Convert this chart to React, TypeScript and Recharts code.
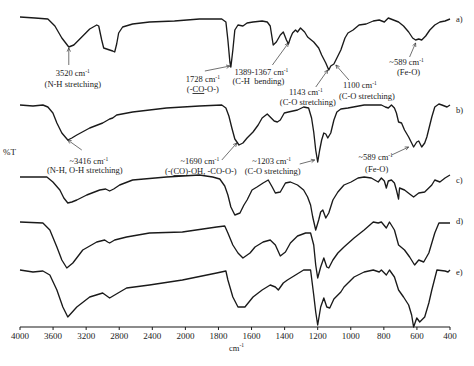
import React from "react";
import { LineChart, Line, XAxis, YAxis, ReferenceDot } from "recharts";

const FONT = '"Liberation Serif", "Times New Roman", serif';
const INK = "#1a1a1a";

// wavenumbers (cm-1) and offset %T, one pair per spectrum
const waveA = [4000, 3819, 3663, 3578, 3494, 3410, 3349, 3253, 3157, 3072, 3048, 3012, 2988, 2952, 2916, 2879, 2855, 2831, 2807, 2759, 2638, 2434, 2132, 1915, 1780, 1755, 1743, 1731, 1725, 1713, 1701, 1682, 1652, 1627, 1591, 1536, 1505, 1487, 1469, 1450, 1426, 1408, 1389, 1377, 1365, 1352, 1334, 1322, 1304, 1279, 1261, 1224, 1194, 1176, 1151, 1133, 1121, 1102, 1084, 1060, 1035, 1017, 986, 950, 907, 864, 828, 797, 773, 742, 711, 681, 650, 626, 608, 589, 571, 547, 522, 492, 461, 430, 400];
const transA = [310, 309, 308, 301, 289, 280, 282, 290, 298, 302, 301, 287, 279, 278, 277, 276, 275, 283, 294, 300, 303, 305, 306, 308, 308, 305, 287, 265, 260, 277, 297, 302, 301, 304, 305, 306, 305, 301, 282, 285, 292, 295, 287, 283, 289, 294, 297, 295, 299, 295, 290, 285, 279, 272, 264, 257, 261, 263, 269, 277, 289, 294, 297, 302, 303, 306, 307, 305, 309, 307, 305, 301, 295, 289, 287, 288, 287, 291, 297, 302, 305, 306, 308];

const waveB = [4000, 3843, 3723, 3663, 3602, 3554, 3494, 3422, 3373, 3313, 3157, 3000, 2916, 2879, 2831, 2638, 2229, 1915, 1780, 1755, 1737, 1719, 1701, 1676, 1652, 1627, 1591, 1560, 1536, 1505, 1481, 1463, 1444, 1426, 1402, 1377, 1322, 1285, 1255, 1237, 1224, 1212, 1200, 1188, 1176, 1163, 1151, 1139, 1121, 1102, 1084, 1060, 1017, 919, 815, 791, 773, 754, 736, 724, 711, 693, 675, 650, 632, 620, 601, 589, 571, 553, 540, 522, 510, 492, 467, 449, 418, 400];
const transB = [222, 221, 222, 220, 214, 204, 194, 187, 189, 192, 199, 204, 208, 209, 212, 215, 219, 221, 222, 219, 211, 199, 188, 182, 184, 189, 195, 202, 209, 213, 209, 206, 205, 207, 214, 215, 217, 220, 219, 209, 195, 177, 165, 177, 187, 194, 193, 189, 194, 207, 215, 218, 219, 222, 222, 220, 219, 222, 219, 214, 205, 204, 197, 190, 184, 180, 185, 186, 180, 184, 190, 202, 210, 220, 223, 222, 220, 222];

const waveC = [4000, 3675, 3602, 3518, 3470, 3422, 3373, 3313, 3193, 3036, 2964, 2916, 2867, 2795, 2638, 2229, 1915, 1835, 1792, 1762, 1743, 1725, 1701, 1670, 1646, 1627, 1597, 1567, 1530, 1499, 1475, 1456, 1426, 1395, 1365, 1322, 1285, 1261, 1243, 1230, 1212, 1194, 1182, 1169, 1151, 1133, 1108, 1078, 1041, 998, 956, 919, 876, 834, 815, 797, 785, 773, 754, 736, 724, 711, 705, 675, 644, 620, 589, 553, 510, 492, 461, 430, 400];
const transC = [150, 150, 145, 137, 129, 124, 125, 127, 132, 137, 138, 136, 138, 142, 147, 150, 152, 150, 148, 141, 132, 120, 112, 114, 122, 127, 137, 140, 144, 147, 140, 134, 135, 144, 145, 142, 137, 130, 122, 110, 97, 107, 115, 117, 109, 114, 127, 135, 142, 145, 149, 150, 149, 145, 149, 146, 139, 146, 147, 144, 137, 128, 139, 137, 133, 130, 134, 135, 142, 147, 145, 149, 152];

const waveD = [4000, 3723, 3639, 3554, 3494, 3434, 3361, 3241, 3072, 2976, 2940, 2916, 2855, 2711, 2434, 2036, 1811, 1762, 1743, 1713, 1682, 1652, 1609, 1579, 1530, 1487, 1456, 1426, 1395, 1365, 1322, 1273, 1243, 1224, 1212, 1200, 1182, 1163, 1145, 1133, 1108, 1078, 1041, 980, 919, 864, 834, 815, 785, 766, 736, 711, 675, 644, 614, 589, 559, 528, 492, 467, 430, 400];
const transD = [105, 104, 97, 80, 67, 59, 64, 77, 85, 87, 85, 84, 87, 90, 94, 95, 100, 101, 94, 82, 74, 69, 74, 80, 85, 87, 82, 71, 75, 84, 91, 94, 94, 82, 62, 49, 60, 69, 60, 59, 67, 74, 80, 89, 97, 105, 104, 105, 99, 105, 97, 82, 77, 70, 62, 67, 65, 74, 94, 104, 104, 104];

const waveE = [4000, 3843, 3723, 3639, 3554, 3482, 3422, 3313, 3157, 3000, 2916, 2855, 2711, 2434, 2036, 1811, 1755, 1743, 1713, 1682, 1640, 1591, 1536, 1487, 1456, 1438, 1408, 1383, 1334, 1285, 1243, 1224, 1212, 1200, 1182, 1163, 1145, 1127, 1102, 1060, 1041, 980, 919, 864, 828, 815, 785, 766, 736, 711, 681, 650, 632, 620, 601, 583, 553, 528, 510, 479, 430, 412, 400];
const transE = [57, 55, 56, 52, 37, 20, 10, 20, 30, 34, 29, 32, 39, 42, 47, 54, 56, 47, 30, 20, 20, 30, 37, 42, 40, 37, 44, 47, 52, 57, 57, 32, 15, 2, 20, 29, 20, 19, 28, 35, 40, 50, 55, 57, 55, 57, 52, 57, 50, 37, 30, 22, 12, 0, 9, 5, 10, 24, 37, 57, 56, 55, 57];

const seriesLabels = ["a)", "b)", "c)", "d)", "e)"];
const tickWaves = [4000, 3600, 3200, 2800, 2400, 2000, 1800, 1600, 1400, 1200, 1000, 800, 600, 400];

// the instrument's axis changes scale at 2000 cm-1 (below it, twice as wide)
const toPos = (w: number) => (w >= 2000 ? (4000 - w) / 2 : 1000 + (2000 - w));
const fromPos = (p: number) => (p <= 1000 ? 4000 - 2 * p : 2000 - (p - 1000));

const build = (waves: number[], vals: number[]) =>
  waves.map((w, i) => ({ x: toPos(w), y: vals[i] }));

const spectra = [
  build(waveA, transA),
  build(waveB, transB),
  build(waveC, transC),
  build(waveD, transD),
  build(waveE, transE),
];
const labelDy = [3, 8, 8, 1, 5];

type Seg = { t: string; u?: boolean; sup?: boolean };
type Note = {
  wave: number;
  value: number;
  arrow: [number, number];
  pos: [number, number][];
  lines: Seg[][];
};

const cm = (n: string): Seg[] => [{ t: `${n} cm` }, { t: "-1", sup: true }];
const plain = (t: string): Seg[] => [{ t }];

const notes: Note[] = [
  { wave: 3410, value: 279, arrow: [0, 17], pos: [[4, 28], [4, 39]], lines: [cm("3520"), plain("(N-H stretching)")] },
  { wave: 1731, value: 261, arrow: [-25, 5], pos: [[-27, 16], [-27, 26]], lines: [cm("1728"), [{ t: "(-" }, { t: "CO", u: true }, { t: "-O-)" }]] },
  { wave: 1377, value: 284, arrow: [-16, 22], pos: [[-27, 32], [-30, 41]], lines: [cm("1389-1367"), plain("(C-H\u00a0 bending)")] },
  { wave: 1139, value: 257, arrow: [-12, 17], pos: [[-22, 25], [-20, 35]], lines: [cm("1143"), plain("(C-O stretching)")] },
  { wave: 1090, value: 262, arrow: [13, 15], pos: [[24, 23], [31, 34]], lines: [cm("1100"), plain("(C-O stretching)")] },
  { wave: 608, value: 284, arrow: [-6, 14], pos: [[-9, 22], [-7, 32]], lines: [cm("~589"), plain("(Fe-O)")] },
  { wave: 3422, value: 187, arrow: [14, 10], pos: [[21, 24], [17, 33]], lines: [cm("~3416"), plain("(N-H, O-H stretching)")] },
  { wave: 1689, value: 184, arrow: [-15, 17], pos: [[-37, 21], [-36, 31]], lines: [cm("~1690"), [{ t: "(-(" }, { t: "CO", u: true }, { t: ")-OH, -CO-O-)" }]] },
  { wave: 1218, value: 167, arrow: [-15, 4], pos: [[-43, 4], [-42, 14]], lines: [cm("~1203"), plain("(C-O stretching)")] },
  { wave: 650, value: 180, arrow: [-17, 8], pos: [[-33, 13], [-32, 25]], lines: [cm("~589"), plain("(Fe-O)")] },
];

function RichText({ x, y, segs }: { x: number; y: number; segs: Seg[] }) {
  return (
    <text x={x} y={y} textAnchor="middle" fontFamily={FONT} fontSize={8.5} fill={INK}>
      {segs.map((s, i) =>
        s.sup ? (
          <tspan key={i} dy={-3} fontSize={5.5}>
            {s.t}
          </tspan>
        ) : (
          <tspan key={i} textDecoration={s.u ? "underline" : undefined}>
            {s.t}
          </tspan>
        )
      )}
    </text>
  );
}

function NoteShape(props: any) {
  const { cx, cy, note } = props as { cx: number; cy: number; note: Note };
  if (cx == null || cy == null) return null;
  const x1 = cx + note.arrow[0];
  const y1 = cy + note.arrow[1];
  const ang = Math.atan2(cy - y1, cx - x1);
  const head = 4;
  const spread = 0.45;
  return (
    <g>
      <line x1={x1} y1={y1} x2={cx} y2={cy} stroke="#333" strokeWidth={0.7} />
      <polyline
        points={`${cx - head * Math.cos(ang - spread)},${cy - head * Math.sin(ang - spread)} ${cx},${cy} ${cx - head * Math.cos(ang + spread)},${cy - head * Math.sin(ang + spread)}`}
        fill="none"
        stroke="#333"
        strokeWidth={0.7}
      />
      {note.lines.map((segs, i) => (
        <RichText key={i} x={cx + note.pos[i][0]} y={cy + note.pos[i][1]} segs={segs} />
      ))}
    </g>
  );
}

function SeriesTag(props: any) {
  const { cx, cy, text, dy } = props;
  if (cx == null || cy == null) return null;
  return (
    <text x={cx + 6} y={cy + dy} fontFamily={FONT} fontSize={8.5} fill={INK}>
      {text}
    </text>
  );
}

export default function App() {
  return (
    <div style={{ position: "absolute", left: 0, top: 0, width: 474, height: 366, background: "#fff", fontFamily: FONT }}>
      <LineChart width={474} height={366} margin={{ top: 17, right: 24, bottom: 14, left: 20 }}>
        <XAxis
          type="number"
          dataKey="x"
          domain={[0, 2600]}
          ticks={tickWaves.map(toPos)}
          interval={0}
          tickFormatter={(p: number) => String(Math.round(fromPos(p)))}
          tick={{ fontSize: 9, fill: INK, fontFamily: FONT }}
          axisLine={{ stroke: INK, strokeWidth: 1.2 }}
          tickLine={{ stroke: INK }}
          tickSize={3}
          tickMargin={3}
          height={25}
        />
        <YAxis
          type="number"
          domain={[0, 310]}
          width={0}
          tick={false}
          tickLine={false}
          axisLine={{ stroke: INK, strokeWidth: 1.2 }}
        />
        {spectra.map((data, i) => (
          <Line
            key={seriesLabels[i]}
            data={data}
            dataKey="y"
            type="linear"
            stroke={INK}
            strokeWidth={1.35}
            strokeLinejoin="round"
            dot={false}
            activeDot={false}
            isAnimationActive={false}
          />
        ))}
        {spectra.map((data, i) => (
          <ReferenceDot
            key={`tag-${i}`}
            x={data[data.length - 1].x}
            y={data[data.length - 1].y}
            ifOverflow="visible"
            shape={(p: any) => <SeriesTag {...p} text={seriesLabels[i]} dy={labelDy[i]} />}
          />
        ))}
        {notes.map((note, i) => (
          <ReferenceDot
            key={`note-${i}`}
            x={toPos(note.wave)}
            y={note.value}
            ifOverflow="visible"
            shape={(p: any) => <NoteShape {...p} note={note} />}
          />
        ))}
      </LineChart>
      <div style={{ position: "absolute", left: 3, top: 147, fontSize: 9, color: INK }}>%T</div>
      <div style={{ position: "absolute", left: 229, top: 342, fontSize: 8.5, color: INK }}>
        cm<sup style={{ fontSize: 5.5 }}>-1</sup>
      </div>
    </div>
  );
}
